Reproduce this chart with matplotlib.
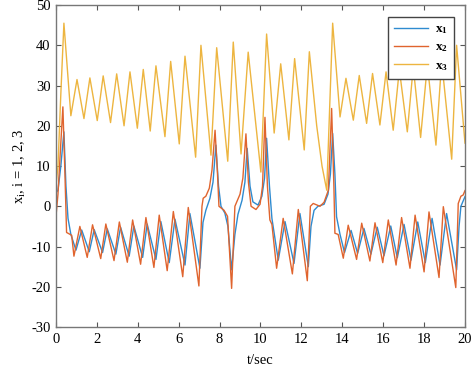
import matplotlib
matplotlib.use("Agg")
import matplotlib.pyplot as plt

plt.rcParams['font.family'] = ['Liberation Serif', 'DejaVu Serif']
plt.rcParams['mathtext.fontset'] = 'custom'
plt.rcParams['mathtext.rm'] = 'Liberation Serif'
plt.rcParams['mathtext.it'] = 'Liberation Serif'
plt.rcParams['mathtext.bf'] = 'Liberation Serif:bold'
plt.rcParams['axes.unicode_minus'] = False

# ---- data ----
t3 = [0.00, 0.10, 0.24, 0.39, 0.73, 1.03, 1.37, 1.66, 2.02, 2.31, 2.67, 2.97, 3.33, 3.62,
      3.98, 4.27, 4.61, 4.89, 5.33, 5.61, 6.03, 6.31, 6.83, 7.09, 7.58, 7.86, 8.40, 8.67,
      9.05, 9.40, 10.02, 10.30, 10.67, 10.99, 11.39, 11.67, 12.14, 12.39, 12.75, 13.01,
      13.24, 13.53, 13.89, 14.18, 14.54, 14.83, 15.19, 15.48, 15.84, 16.14, 16.49, 16.79,
      17.18, 17.47, 17.83, 18.16, 18.58, 18.86, 19.35, 19.59, 20.00]
x3 = [5.0, 10, 28, 45.5, 22.5, 31.5, 21.8, 31.9, 21.3, 32.4, 20.8, 32.9, 20.0, 33.4,
      19.4, 34.0, 18.7, 34.9, 17.3, 36.0, 15.5, 37.3, 12.2, 40.0, 12.7, 39.4, 11.2, 40.8,
      13.0, 38.3, 8.5, 42.8, 18.2, 35.4, 16.5, 36.7, 14.0, 38.4, 20.0, 10.0,
      4.0, 45.5, 22.2, 31.8, 21.4, 32.5, 20.6, 33.0, 20.2, 33.4, 18.9, 34.0,
      18.5, 34.6, 17.1, 35.2, 15.2, 36.0, 11.7, 40.0, 15.7]

t2 = [0.00, 0.10, 0.22, 0.34, 0.44, 0.52, 0.77, 0.88, 1.17, 1.53, 1.79, 2.19, 2.44, 2.84,
      3.10, 3.49, 3.75, 4.14, 4.40, 4.79, 5.05, 5.44, 5.74, 6.20, 6.47, 6.99, 7.14, 7.20,
      7.33, 7.50, 7.63, 7.78, 7.90, 7.97, 8.22, 8.39, 8.59, 8.75, 9.00, 9.14, 9.29, 9.41,
      9.54, 9.78, 9.98, 10.10, 10.22, 10.34, 10.46, 10.56, 10.79, 11.11, 11.56, 11.85,
      12.29, 12.44, 12.58, 12.91, 13.11, 13.32, 13.48, 13.59, 13.64, 13.80, 14.05, 14.29,
      14.70, 14.95, 15.35, 15.60, 15.98, 16.25, 16.63, 16.90, 17.31, 17.56, 18.00, 18.24,
      18.73, 18.94, 19.55, 19.67, 19.80, 19.91, 20.00]
x2 = [-2.6, 3, 14, 24.7, 8, -6.5, -7.2, -12.4, -5.0, -12.7, -4.6, -13.0, -4.4, -13.5,
      -3.9, -13.9, -3.4, -14.4, -2.8, -15.2, -2.2, -16.0, -1.3, -17.5, -0.3, -19.8, 0, 2.0,
      2.5, 4.5, 9, 18.9, 8, 0, -1, -2.5, -20.4, 0, 3, 7, 18.0, 6,
      0, -0.8, 0.5, 5, 22.1, 5, -3.4, -4.5, -15.4, -3.0, -16.8, -0.8,
      -18.5, 0, 0.7, 0, 1, 4.0, 24.3, 5, -6.7, -7.0, -12.9, -4.7,
      -13.2, -4.2, -13.6, -4.1, -14.0, -3.4, -14.6, -2.8, -15.4, -2.2, -16.3, -1.4,
      -17.7, -0.1, -20.2, 0.7, 2.5, 2.8, 3.9]

t1 = [0.00, 0.10, 0.24, 0.39, 0.49, 0.59, 0.73, 0.98, 1.26, 1.63, 1.87, 2.28, 2.51, 2.93,
      3.16, 3.58, 3.81, 4.24, 4.46, 4.89, 5.13, 5.54, 5.82, 6.31, 6.55, 7.04, 7.19, 7.33,
      7.53, 7.68, 7.82, 7.95, 8.07, 8.26, 8.41, 8.59, 8.75, 8.90, 9.10, 9.24, 9.35, 9.49,
      9.63, 9.88, 10.07, 10.20, 10.30, 10.44, 10.56, 10.87, 11.20, 11.64, 11.93, 12.34,
      12.47, 12.62, 12.81, 13.11, 13.30, 13.42, 13.53, 13.64, 13.72, 13.89, 14.11, 14.43,
      14.75, 15.06, 15.40, 15.71, 16.04, 16.37, 16.69, 17.02, 17.36, 17.69, 18.06, 18.39,
      18.78, 19.10, 19.59, 19.71, 19.80, 20.00]
x1 = [3.3, 4, 10, 18.5, 5, -3, -7, -10.9, -5.9, -11.3, -5.8, -11.5, -5.6, -11.9,
      -5.2, -12.4, -4.9, -12.7, -4.4, -13.2, -3.8, -14.0, -3.2, -14.6, -1.8, -15.4, -4, -1,
      2, 6, 15.2, 5, 0, -1.7, -5, -15.8, -7, -2, 1.5, 6, 14.4, 5,
      1.1, 0.3, 2.5, 7, 16.9, 5, -3, -13.4, -3.8, -14.2, -1.8, -15.0,
      -5, -1, 0, 0.5, 3, 8, 18.1, 8, -2.6, -7, -11.5, -6.0,
      -11.7, -5.5, -11.9, -5.2, -12.3, -4.9, -12.8, -4.5, -13.4, -3.9, -14.0, -3.0,
      -14.6, -1.8, -15.8, -5, 0, 2.4]

labels = [r'$\mathbf{x_1}$', r'$\mathbf{x_2}$', r'$\mathbf{x_3}$']
xticks = list(range(0, 21, 2))
yticks = list(range(-30, 51, 10))

fig = plt.figure(figsize=(4.74, 3.81), dpi=100)
ax = fig.add_axes([0.118, 0.1417, 0.863, 0.845])

c1, c2, c3 = '#2f8bd0', '#e0642e', '#edb540'
kw = dict(lw=1.0, solid_joinstyle='round')
ax.plot(t1, x1, color=c1, label=labels[0], **kw)
ax.plot(t2, x2, color=c2, label=labels[1], **kw)
ax.plot(t3, x3, color=c3, label=labels[2], **kw)

ax.set_xlim(0, 20)
ax.set_ylim(-30, 50)
ax.set_xticks(xticks)
ax.set_yticks(yticks)
ax.tick_params(direction='in', top=True, right=True, length=3.5, width=0.8,
               color='#555555', labelsize=10.5, pad=4)
for s in ax.spines.values():
    s.set_color('#777777')
    s.set_linewidth(1.0)

ax.set_xlabel('t/sec', fontsize=10.5, labelpad=6)
ax.set_ylabel(r'$\mathrm{x_i}$, i = 1, 2, 3', fontsize=10.5, labelpad=2)

leg = ax.legend(loc='upper right', bbox_to_anchor=(0.973, 0.963), fontsize=9.5,
                handlelength=2.6, handletextpad=0.5, labelspacing=0.4,
                borderpad=0.45, fancybox=False, framealpha=1, borderaxespad=0)
leg.get_frame().set_edgecolor('#444444')
leg.get_frame().set_linewidth(1.0)

fig.savefig('out.png', dpi=100)
